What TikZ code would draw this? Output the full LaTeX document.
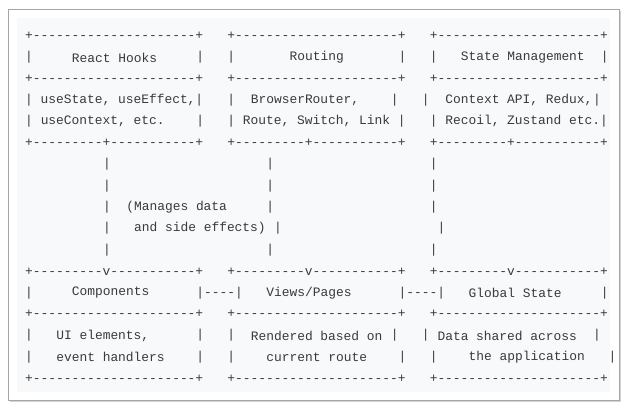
\documentclass[tikz,border=0pt]{standalone}
\usepackage{fontspec}
\setmonofont{Liberation Mono}
\usetikzlibrary{positioning,shadows}

\definecolor{asciitext}{HTML}{3A3A3A}
\definecolor{panelbg}{HTML}{F8F9FB}

% one piece of the ascii chart: column, row, text
\newcommand{\asc}[3]{%
  \node[ascii] (r#2c#1) at ({25+#1*7.78}, {-36-(#2-1)*21.4}) {#3};}
\newcommand{\edge}[1]{%
  \asc{0}{#1}{+---------------------+}
  \asc{26}{#1}{+---------------------+}
  \asc{52}{#1}{+---------------------+}}

\begin{document}
\begin{tikzpicture}[
    x=1bp, y=1bp,
    ascii/.style={anchor=west, inner sep=0pt, font=\ttfamily\fontsize{12.9bp}{14bp}\selectfont, text=asciitext},
    panel/.style={draw=black!35, fill=white, drop shadow={shadow xshift=2bp, shadow yshift=-2bp, opacity=0.35}}
]
    \useasboundingbox (0,0) rectangle (628,-417);
    \path[panel] (8,-9) rectangle (619,-400);
    \fill[panelbg] (17,-18) rectangle (610,-392);

    % top boxes
    \edge{1}
    \asc{0}{2}{|} \asc{6}{2}{React Hooks} \asc{22}{2}{|}
    \asc{26}{2}{|} \asc{34}{2}{Routing} \asc{48}{2}{|}
    \asc{52}{2}{|} \asc{56}{2}{State Management} \asc{74}{2}{|}
    \edge{3}
    \asc{0}{4}{| useState, useEffect,|}
    \asc{26}{4}{|} \asc{29}{4}{BrowserRouter,} \asc{47}{4}{|}
    \asc{51}{4}{|} \asc{54}{4}{Context API, Redux,} \asc{73}{4}{|}
    \asc{0}{5}{|} \asc{2}{5}{useContext, etc.} \asc{22}{5}{|}
    \asc{26}{5}{| Route, Switch, Link |}
    \asc{52}{5}{|} \asc{54}{5}{Recoil, Zustand etc.|}
    \asc{0}{6}{+---------+-----------+}
    \asc{26}{6}{+---------+-----------+}
    \asc{52}{6}{+---------+-----------+}

    % links
    \asc{10}{7}{|} \asc{31}{7}{|} \asc{52}{7}{|}
    \asc{10}{8}{|} \asc{31}{8}{|} \asc{52}{8}{|}
    \asc{10}{9}{|} \asc{13}{9}{(Manages data} \asc{31}{9}{|} \asc{52}{9}{|}
    \asc{10}{10}{|} \asc{14}{10}{and side effects)} \asc{32}{10}{|} \asc{53}{10}{|}
    \asc{10}{11}{|} \asc{31}{11}{|} \asc{52}{11}{|}

    % bottom boxes
    \asc{0}{12}{+---------v-----------+}
    \asc{26}{12}{+---------v-----------+}
    \asc{52}{12}{+---------v-----------+}
    \asc{0}{13}{|} \asc{6}{13}{Components} \asc{22}{13}{|----|}
    \asc{31}{13}{Views/Pages} \asc{48}{13}{|----|}
    \asc{57}{13}{Global State} \asc{74}{13}{|}
    \edge{14}
    \asc{0}{15}{|} \asc{4}{15}{UI elements,} \asc{22}{15}{|}
    \asc{26}{15}{|} \asc{29}{15}{Rendered based on} \asc{47}{15}{|}
    \asc{51}{15}{|} \asc{53}{15}{Data shared across} \asc{73}{15}{|}
    \asc{0}{16}{|} \asc{4}{16}{event handlers} \asc{22}{16}{|}
    \asc{26}{16}{|} \asc{31}{16}{current route} \asc{48}{16}{|}
    \asc{52}{16}{|} \asc{57}{16}{the application} \asc{75}{16}{|}
    \edge{17}
\end{tikzpicture}
\end{document}
